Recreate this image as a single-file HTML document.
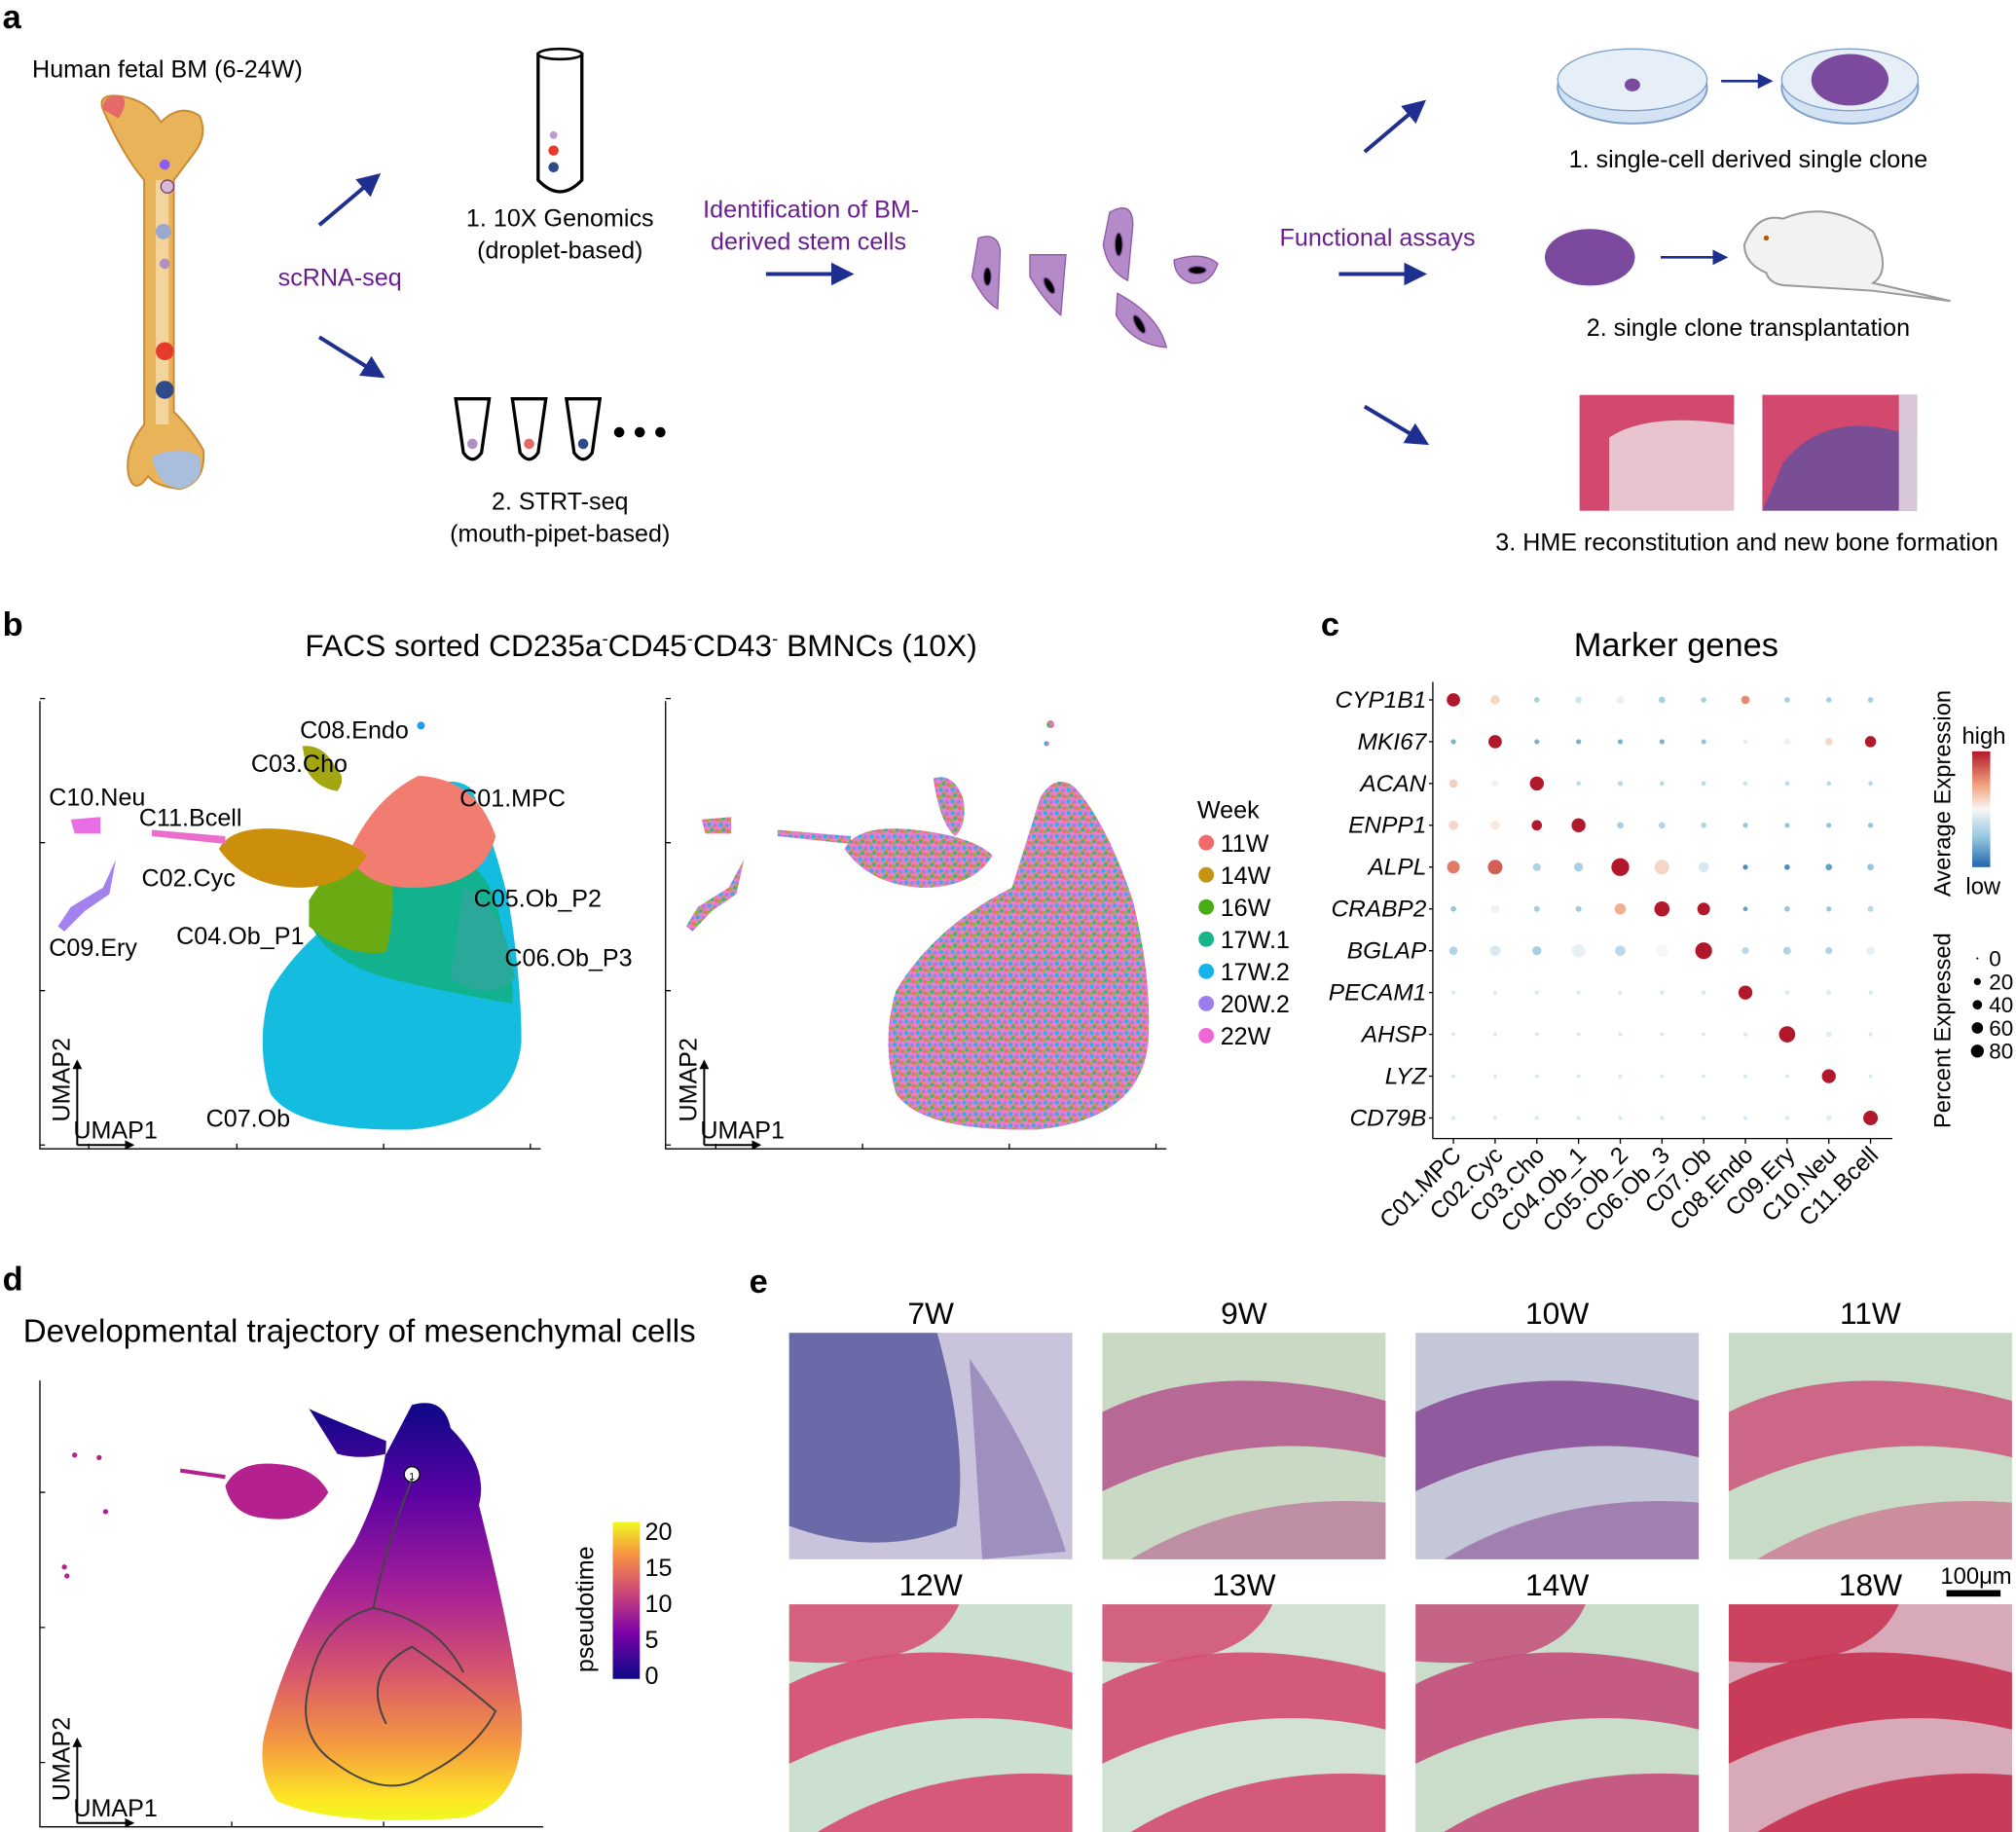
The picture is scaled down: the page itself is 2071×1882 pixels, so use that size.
<!DOCTYPE html>
<html><head><meta charset="utf-8"><style>
html,body{margin:0;padding:0;background:#fff;}
svg{display:block;font-family:"Liberation Sans",sans-serif;}
</style></head><body>
<svg id="fig" width="2071" height="1882" viewBox="0 0 1566 1424" preserveAspectRatio="none" xmlns="http://www.w3.org/2000/svg">
<defs>
<marker id="ah" viewBox="0 0 10 10" refX="8" refY="5" markerWidth="6" markerHeight="6" orient="auto"><path d="M0,0L10,5L0,10z" fill="#1f2f8f"/></marker>
<marker id="ak" viewBox="0 0 10 10" refX="8" refY="5" markerWidth="5" markerHeight="5" orient="auto"><path d="M0,0L10,5L0,10z" fill="#000"/></marker>
<pattern id="mix" width="9" height="9" patternUnits="userSpaceOnUse">
<rect width="9" height="9" fill="#e97ec9"/>
<circle cx="2" cy="2" r="1.6" fill="#22b5e8"/><circle cx="6.5" cy="2.5" r="1.5" fill="#9c7cf0"/>
<circle cx="4" cy="6" r="1.6" fill="#36b67c"/><circle cx="7.5" cy="7" r="1.4" fill="#f06a6a"/>
<circle cx="1" cy="7.5" r="1.3" fill="#7fbf1e"/><circle cx="5" cy="4" r="1.1" fill="#d39a11"/>
</pattern>
<linearGradient id="pt" x1="0" y1="0" x2="0" y2="1">
<stop offset="0" stop-color="#0d0887"/><stop offset="0.22" stop-color="#5b02a3"/><stop offset="0.45" stop-color="#a62098"/>
<stop offset="0.65" stop-color="#d8576b"/><stop offset="0.82" stop-color="#f59a3f"/><stop offset="0.95" stop-color="#fde725"/><stop offset="1" stop-color="#f0f921"/>
</linearGradient>
<linearGradient id="pbar" x1="0" y1="1" x2="0" y2="0">
<stop offset="0" stop-color="#0d0887"/><stop offset="0.3" stop-color="#7e03a8"/><stop offset="0.55" stop-color="#cc4778"/><stop offset="0.8" stop-color="#f89540"/><stop offset="1" stop-color="#f0f921"/>
</linearGradient>
<linearGradient id="ebar" x1="0" y1="0" x2="0" y2="1">
<stop offset="0" stop-color="#b2182b"/><stop offset="0.3" stop-color="#f4a582"/><stop offset="0.5" stop-color="#f7f7f7"/><stop offset="0.75" stop-color="#92c5de"/><stop offset="1" stop-color="#2166ac"/>
</linearGradient>
</defs>

<!-- ===== Panel a ===== -->
<g>
<text x="2" y="22" font-size="26" font-weight="bold">a</text>
<text x="25" y="60" font-size="19">Human fetal BM (6-24W)</text>
<g>
<path d="M80,85 Q75,72 95,75 Q115,78 125,95 Q140,80 155,90 Q162,105 150,120 L135,140 L135,320 Q150,335 158,350 Q160,375 140,380 Q120,378 115,370 Q105,385 100,370 Q96,350 112,330 L112,140 Q95,120 80,85z" fill="#e9b35a" stroke="#c98a34" stroke-width="1.5"/>
<path d="M80,85 Q80,72 95,75 Q100,80 92,92z" fill="#e46a6a"/>
<path d="M118,355 Q140,345 155,355 Q160,375 140,380 Q122,378 118,355z" fill="#a9bedc"/>
<rect x="121" y="140" width="10" height="190" fill="#f3d49c"/>
<circle cx="128" cy="128" r="4" fill="#8b5cf6"/><circle cx="130" cy="145" r="5" fill="#d7b9d8" stroke="#6d3d73"/>
<circle cx="127" cy="180" r="6" fill="#9aa7cf"/><circle cx="128" cy="205" r="4" fill="#b090c0"/>
<circle cx="128" cy="273" r="7" fill="#e53b2f"/><circle cx="128" cy="303" r="7" fill="#2e4a8a"/>
</g>
<text x="216" y="222" font-size="19" fill="#6a1d8f">scRNA-seq</text>
<line x1="248" y1="175" x2="293" y2="137" stroke="#1f2f8f" stroke-width="3" marker-end="url(#ah)"/>
<line x1="248" y1="262" x2="296" y2="292" stroke="#1f2f8f" stroke-width="3" marker-end="url(#ah)"/>
<g>
<path d="M418,42 L452,42 L452,140 Q435,158 418,140z" fill="#fff" stroke="#000" stroke-width="2.5"/>
<ellipse cx="435" cy="42" rx="17" ry="4" fill="#fff" stroke="#000" stroke-width="2"/>
<circle cx="430" cy="105" r="3" fill="#c09bd0"/><circle cx="430" cy="117" r="4" fill="#e53b2f"/><circle cx="430" cy="130" r="4" fill="#2e4a8a"/>
</g>
<text x="435" y="176" font-size="19" text-anchor="middle">1. 10X Genomics</text>
<text x="435" y="201" font-size="19" text-anchor="middle">(droplet-based)</text>
<g>
<path d="M354,310 L380,310 L374,352 Q367,362 360,352z" fill="#fff" stroke="#000" stroke-width="2.5"/><circle cx="367" cy="345" r="4" fill="#b090c0"/>
<path d="M398,310 L424,310 L418,352 Q411,362 404,352z" fill="#fff" stroke="#000" stroke-width="2.5"/><circle cx="411" cy="345" r="4" fill="#e46a6a"/>
<path d="M440,310 L466,310 L460,352 Q453,362 446,352z" fill="#fff" stroke="#000" stroke-width="2.5"/><circle cx="453" cy="345" r="4" fill="#2e4a8a"/>
<circle cx="481" cy="336" r="4"/><circle cx="497" cy="336" r="4"/><circle cx="513" cy="336" r="4"/>
</g>
<text x="435" y="396" font-size="19" text-anchor="middle">2. STRT-seq</text>
<text x="435" y="421" font-size="19" text-anchor="middle">(mouth-pipet-based)</text>
<text x="630" y="169" font-size="19" fill="#6a1d8f" text-anchor="middle">Identification of BM-</text>
<text x="628" y="194" font-size="19" fill="#6a1d8f" text-anchor="middle">derived stem cells</text>
<line x1="595" y1="213" x2="660" y2="213" stroke="#1f2f8f" stroke-width="3" marker-end="url(#ah)"/>
<g fill="#b58ac9" stroke="#8c5aa8">
<path d="M760,185 Q775,180 777,195 L775,240 Q765,235 755,215z"/><ellipse cx="767" cy="215" rx="3" ry="7" fill="#000"/>
<path d="M800,198 L828,198 L824,245 Q812,235 800,215z"/><ellipse cx="815" cy="222" rx="3" ry="7" fill="#000" transform="rotate(-30 815 222)"/>
<path d="M862,165 Q880,155 880,175 L876,218 Q860,210 857,190z"/><ellipse cx="869" cy="190" rx="3" ry="9" fill="#000"/>
<path d="M912,202 Q935,195 946,205 Q940,222 925,220 Q912,215 912,202z"/><ellipse cx="930" cy="210" rx="7" ry="3" fill="#000"/>
<path d="M868,228 Q900,245 906,270 Q880,268 867,245z"/><ellipse cx="885" cy="252" rx="3" ry="8" fill="#000" transform="rotate(-30 885 252)"/>
</g>
<text x="1070" y="191" font-size="19" fill="#6a1d8f" text-anchor="middle">Functional assays</text>
<line x1="1040" y1="213" x2="1105" y2="213" stroke="#1f2f8f" stroke-width="3" marker-end="url(#ah)"/>
<line x1="1060" y1="118" x2="1105" y2="80" stroke="#1f2f8f" stroke-width="3" marker-end="url(#ah)"/>
<line x1="1060" y1="316" x2="1107" y2="344" stroke="#1f2f8f" stroke-width="3" marker-end="url(#ah)"/>
<g>
<ellipse cx="1268" cy="68" rx="58" ry="28" fill="#d4e3f4" stroke="#7fa1c9" stroke-width="1.5"/>
<ellipse cx="1268" cy="62" rx="58" ry="24" fill="#e6eef8" stroke="#7fa1c9" stroke-width="1"/>
<ellipse cx="1268" cy="66" rx="6" ry="5" fill="#7b4a9e"/>
<ellipse cx="1437" cy="68" rx="53" ry="28" fill="#d4e3f4" stroke="#7fa1c9" stroke-width="1.5"/>
<ellipse cx="1437" cy="62" rx="53" ry="24" fill="#e6eef8" stroke="#7fa1c9" stroke-width="1"/>
<ellipse cx="1437" cy="62" rx="30" ry="20" fill="#7b4a9e"/>
</g>
<line x1="1337" y1="63" x2="1375" y2="63" stroke="#1f2f8f" stroke-width="2" marker-end="url(#ah)"/>
<text x="1358" y="130" font-size="19" text-anchor="middle">1. single-cell derived single clone</text>
<ellipse cx="1235" cy="200" rx="35" ry="22" fill="#7b4a9e"/>
<line x1="1290" y1="200" x2="1340" y2="200" stroke="#1f2f8f" stroke-width="2" marker-end="url(#ah)"/>
<path d="M1355,190 Q1365,165 1385,170 Q1420,155 1455,180 Q1470,210 1455,220 Q1490,228 1515,234 L1455,226 L1390,222 Q1375,222 1372,212 Q1355,205 1355,190z" fill="#f2f2f2" stroke="#999" stroke-width="1.5"/>
<circle cx="1372" cy="185" r="2" fill="#b35a00"/>
<text x="1358" y="261" font-size="19" text-anchor="middle">2. single clone transplantation</text>
<rect x="1227" y="307" width="120" height="90" fill="#e8c4cf"/>
<path d="M1227,307 L1347,307 L1347,330 Q1280,320 1250,340 L1250,397 L1227,397z" fill="#d2486f"/>
<rect x="1369" y="307" width="120" height="90" fill="#7a4e94"/>
<path d="M1369,307 L1489,307 L1489,340 Q1420,315 1385,360 L1369,397z" fill="#d2486f"/>
<rect x="1475" y="307" width="14" height="90" fill="#d8c7d8"/>
<text x="1357" y="428" font-size="19" text-anchor="middle">3. HME reconstitution and new bone formation</text>
</g>

<!-- ===== Panel b ===== -->
<g>
<text x="2" y="494" font-size="26" font-weight="bold">b</text>
<text x="498" y="510" font-size="24" text-anchor="middle">FACS sorted CD235a<tspan font-size="14" dy="-9">-</tspan><tspan dy="9">CD45</tspan><tspan font-size="14" dy="-9">-</tspan><tspan dy="9">CD43</tspan><tspan font-size="14" dy="-9">-</tspan><tspan dy="9"> BMNCs (10X)</tspan></text>
<g>
<path d="M210,770 Q240,720 300,690 L330,620 Q345,600 365,612 Q380,640 395,700 Q405,760 405,810 Q400,870 320,878 Q230,880 210,850 Q198,810 210,770z" fill="#14bce0"/>
<path d="M240,715 Q280,670 330,660 Q370,660 385,700 Q400,760 398,780 Q340,770 300,760 Q250,745 240,715z" fill="#13b28e"/>
<path d="M360,690 Q390,700 400,760 Q380,780 350,760z" fill="#2aa99a"/>
<path d="M240,700 Q260,665 300,660 Q310,700 300,740 Q270,745 240,720z" fill="#6aaa12"/>
<path d="M270,665 Q290,620 325,603 Q370,605 385,650 Q375,690 320,690 Q285,690 270,665z" fill="#f37c70"/>
<path d="M170,660 Q180,640 225,645 Q270,650 285,665 Q270,690 230,690 Q190,688 170,660z" fill="#cc8f0c"/>
<path d="M235,580 Q250,578 260,595 Q270,605 262,615 Q245,612 238,598z" fill="#a4a611"/>
<path d="M118,645 L175,650 L175,656 L118,650z" fill="#ea6fcc"/>
<path d="M55,637 L78,635 L78,648 L58,648z" fill="#e96ee6"/>
<path d="M90,668 L80,690 L55,705 L45,720 L50,724 L66,708 L85,695z" fill="#a381ef"/>
<circle cx="327" cy="564" r="3" fill="#1aa0e8"/>
</g>
<g font-size="19">
<text x="233" y="574">C08.Endo</text><text x="195" y="600">C03.Cho</text>
<text x="38" y="626">C10.Neu</text><text x="108" y="642">C11.Bcell</text>
<text x="357" y="627">C01.MPC</text><text x="110" y="689">C02.Cyc</text>
<text x="368" y="705">C05.Ob_P2</text><text x="137" y="734">C04.Ob_P1</text>
<text x="38" y="743">C09.Ery</text><text x="392" y="751">C06.Ob_P3</text>
<text x="160" y="876">C07.Ob</text>
</g>
<g stroke="#000" fill="none">
<path d="M31,545 L31,893 L420,893"/>
<path d="M31,543 L35,543 M31,655 L35,655 M31,770 L35,770 M31,890 L35,890 M69,893 L69,889 M184,893 L184,889 M298,893 L298,889 M412,893 L412,889" stroke-width="1"/>
<path d="M60,890 L60,825" marker-end="url(#ak)" stroke-width="1.5"/><path d="M60,890 L103,890" marker-end="url(#ak)" stroke-width="1.5"/>
</g>
<text x="54" y="872" font-size="19" transform="rotate(-90 54 872)">UMAP2</text>
<text x="57" y="885" font-size="19">UMAP1</text>
<g fill="url(#mix)">
<path d="M696,770 Q726,720 786,690 L808,620 Q820,600 835,612 Q860,640 880,700 Q895,760 892,810 Q886,870 806,878 Q716,880 696,850 Q684,810 696,770z"/>
<path d="M656,660 Q666,640 711,645 Q756,650 771,665 Q756,690 716,690 Q676,688 656,660z"/>
<path d="M725,605 Q740,600 748,620 Q752,640 742,650 Q730,640 725,605z"/>
<path d="M604,645 L661,650 L661,656 L604,650z"/>
<path d="M545,637 L568,635 L568,648 L548,648z"/>
<path d="M578,668 L566,690 L542,705 L533,720 L538,724 L553,708 L572,695z"/>
<circle cx="816" cy="563" r="3"/><circle cx="813" cy="578" r="2"/>
</g>
<g stroke="#000" fill="none">
<path d="M517,545 L517,893 L906,893"/>
<path d="M517,543 L521,543 M517,655 L521,655 M517,770 L521,770 M517,890 L521,890 M556,893 L556,889 M670,893 L670,889 M784,893 L784,889 M898,893 L898,889"/>
<path d="M547,890 L547,825" marker-end="url(#ak)" stroke-width="1.5"/><path d="M547,890 L590,890" marker-end="url(#ak)" stroke-width="1.5"/>
</g>
<text x="541" y="872" font-size="19" transform="rotate(-90 541 872)">UMAP2</text>
<text x="544" y="885" font-size="19">UMAP1</text>
<g font-size="19">
<text x="930" y="636">Week</text>
<circle cx="937" cy="655" r="6" fill="#f06a6a"/><text x="948" y="662">11W</text>
<circle cx="937" cy="680" r="6" fill="#c59410"/><text x="948" y="687">14W</text>
<circle cx="937" cy="705" r="6" fill="#4aac14"/><text x="948" y="712">16W</text>
<circle cx="937" cy="730" r="6" fill="#18b48a"/><text x="948" y="737">17W.1</text>
<circle cx="937" cy="755" r="6" fill="#18b3e8"/><text x="948" y="762">17W.2</text>
<circle cx="937" cy="780" r="6" fill="#9c7cf0"/><text x="948" y="787">20W.2</text>
<circle cx="937" cy="805" r="6" fill="#ef67d6"/><text x="948" y="812">22W</text>
</g>
</g>

<!-- ===== Panel c ===== -->
<g>
<text x="1026" y="494" font-size="26" font-weight="bold">c</text>
<text x="1302" y="510" font-size="26" text-anchor="middle">Marker genes</text>
<path d="M1113,530 L1113,885 L1470,885" stroke="#000" fill="none"/>
<g id="dots"></g>
<g id="ylab"></g>
<g id="xlab"></g>
<text x="1515" y="697" font-size="18" transform="rotate(-90 1515 697)">Average Expression</text>
<text x="1524" y="578" font-size="18">high</text>
<rect x="1532" y="584" width="14" height="90" fill="url(#ebar)"/>
<text x="1527" y="695" font-size="18">low</text>
<text x="1515" y="877" font-size="18" transform="rotate(-90 1515 877)">Percent Expressed</text>
<g id="sizeleg" font-size="17"></g>
</g>

<!-- ===== Panel d ===== -->
<g>
<text x="2" y="1003" font-size="26" font-weight="bold">d</text>
<text x="18" y="1043" font-size="25">Developmental trajectory of mesenchymal cells</text>
<path d="M31,1073 L31,1420 L422,1420" stroke="#000" fill="none"/>
<path d="M31,1160 L35,1160 M31,1265 L35,1265 M31,1370 L35,1370 M180,1420 L180,1416 M298,1420 L298,1416" stroke="#000"/>
<path d="M205,1350 Q225,1270 275,1200 Q300,1150 300,1120 Q250,1100 240,1095 L262,1130 Q280,1135 300,1130 L320,1092 Q345,1085 350,1110 Q380,1140 372,1170 Q395,1260 405,1330 Q410,1400 360,1413 Q260,1420 215,1400 Q200,1380 205,1350z" fill="url(#pt)"/>
<path d="M175,1155 Q185,1135 215,1138 Q245,1140 255,1160 Q240,1185 205,1180 Q180,1178 175,1155z" fill="#b5208f"/>
<path d="M140,1143 L175,1148" stroke="#b5208f" stroke-width="3"/>
<circle cx="320" cy="1146" r="6" fill="#fff" stroke="#000"/>
<text x="320" y="1150" font-size="8" text-anchor="middle">1</text>
<path d="M320,1150 Q300,1200 290,1250 Q250,1260 240,1310 Q230,1350 260,1370 Q300,1400 330,1380 Q370,1360 385,1330 Q350,1300 320,1280 Q280,1300 300,1340 M290,1250 Q340,1260 360,1300" stroke="#444" stroke-width="1.5" fill="none"/>
<circle cx="58" cy="1131" r="2" fill="#b5208f"/><circle cx="77" cy="1133" r="2" fill="#b5208f"/><circle cx="82" cy="1175" r="2" fill="#b5208f"/><circle cx="50" cy="1218" r="2" fill="#b5208f"/><circle cx="52" cy="1225" r="2" fill="#b5208f"/>
<path d="M60,1417 L60,1352" stroke="#000" stroke-width="1.5" marker-end="url(#ak)"/><path d="M60,1417 L103,1417" stroke="#000" stroke-width="1.5" marker-end="url(#ak)"/>
<text x="54" y="1400" font-size="19" transform="rotate(-90 54 1400)">UMAP2</text>
<text x="57" y="1412" font-size="19">UMAP1</text>
<text x="461" y="1300" font-size="19" transform="rotate(-90 461 1300)">pseudotime</text>
<rect x="476" y="1183" width="21" height="122" fill="url(#pbar)"/>
<g font-size="19">
<text x="501" y="1197">20</text><text x="501" y="1225">15</text><text x="501" y="1253">10</text><text x="501" y="1281">5</text><text x="501" y="1309">0</text>
</g>
</g>

<!-- ===== Panel e ===== -->
<g>
<text x="582" y="1005" font-size="26" font-weight="bold">e</text>
<g id="tiles"></g>
<text x="1535" y="1231" font-size="18" text-anchor="middle">100μm</text>
<rect x="1512" y="1236" width="42" height="5" fill="#000"/>
</g>
</svg>

<script>
// ===== dot plot data =====
const genes = ["CYP1B1","MKI67","ACAN","ENPP1","ALPL","CRABP2","BGLAP","PECAM1","AHSP","LYZ","CD79B"];
const clusters = ["C01.MPC","C02.Cyc","C03.Cho","C04.Ob_1","C05.Ob_2","C06.Ob_3","C07.Ob","C08.Endo","C09.Ery","C10.Neu","C11.Bcell"];
const avgExpr = [
 [1,.2,-.4,-.2,-.05,-.4,-.4,.6,-.4,-.4,-.4],
 [-.6,1,-.6,-.6,-.6,-.6,-.5,-.1,.05,.2,1],
 [.25,-.05,1,-.3,-.3,-.3,-.3,-.2,-.3,-.3,-.3],
 [.2,.1,1,1,-.4,-.35,-.35,-.5,-.5,-.5,-.5],
 [.65,.75,-.35,-.4,1,.2,-.15,-.8,-.8,-.7,-.5],
 [-.5,-.05,-.4,-.45,.45,1,1,-.7,-.5,-.5,-.3],
 [-.35,-.15,-.4,-.07,-.3,0,1,-.3,-.35,-.35,-.07],
 [-.15,-.15,-.15,-.15,-.15,-.15,-.15,1,-.15,-.1,-.15],
 [-.15,-.15,-.15,-.15,-.15,-.15,-.15,-.15,1,-.1,-.15],
 [-.15,-.15,-.15,-.15,-.15,-.15,-.15,-.15,-.15,1,-.15],
 [-.15,-.15,-.15,-.15,-.15,-.15,-.15,-.15,-.15,-.1,1]
];
const pctExpr = [
 [45,20,5,8,15,8,5,15,5,5,5],
 [4,45,4,4,4,4,4,3,8,10,30],
 [15,8,50,3,4,3,3,3,3,3,3],
 [20,18,25,50,8,8,5,4,4,4,4],
 [40,55,13,18,85,55,25,4,5,8,8],
 [5,15,6,6,30,60,40,3,5,4,6],
 [15,25,18,45,25,38,75,10,13,10,15],
 [2,2,2,2,2,2,2,50,2,4,2],
 [2,2,2,2,2,2,2,2,70,6,2],
 [2,2,2,2,2,2,2,2,2,50,2],
 [2,2,2,2,2,2,2,2,2,6,55]
];
const sizeTicks = [0,20,40,60,80];

const NS="http://www.w3.org/2000/svg";
const xScale = i => 1129 + i*32.4;
const yScale = j => 544 + j*32.5;
const rScale = p => 6.3*Math.sqrt(p/85) + 0.6;
const stops=[[-1,[33,102,172]],[-.5,[146,197,222]],[0,[247,247,247]],[.5,[244,165,130]],[1,[178,24,43]]];
function colorScale(v){
  v=Math.max(-1,Math.min(1,v));
  for(let k=0;k<stops.length-1;k++){const a=stops[k],b=stops[k+1];
    if(v<=b[0]){const t=(v-a[0])/(b[0]-a[0]);const c=a[1].map((x,i)=>Math.round(x+(b[1][i]-x)*t));return "rgb("+c.join(",")+")";}}
  return "rgb(178,24,43)";
}
function mk(tag,attrs,parent){const e=document.createElementNS(NS,tag);for(const k in attrs)e.setAttribute(k,attrs[k]);parent.appendChild(e);return e;}
const dots=document.getElementById('dots'),yl=document.getElementById('ylab'),xl=document.getElementById('xlab');
genes.forEach((g,j)=>{
  const t=mk('text',{x:1108,y:yScale(j)+6,'font-size':18.5,'font-style':'italic','text-anchor':'end'},yl);
  t.textContent=g;
  
  
  mk('line',{x1:1110,x2:1113,y1:yScale(j),y2:yScale(j),stroke:'#000'},yl);
  clusters.forEach((c,i)=>{
    const d=mk('circle',{cx:xScale(i),cy:yScale(j),r:rScale(pctExpr[j][i]),fill:colorScale(avgExpr[j][i])},dots);
    
    
  });
});
clusters.forEach((c,i)=>{
  const x=xScale(i),y=893;
  mk('line',{x1:x,x2:x,y1:885,y2:889,stroke:'#000'},xl);
  const t=mk('text',{x:x+7,y:y+6,'font-size':18.5,'text-anchor':'end',transform:"rotate(-45 "+(x+7)+" "+(y+6)+")"},xl);
  t.textContent=c;
  
  
});
const sl=document.getElementById('sizeleg');
sizeTicks.forEach((p,k)=>{
  const y=745+k*18;
  const c=mk('circle',{cx:1536,cy:y,r:p===0?0.8:rScale(p)*0.75,fill:'#000'},sl);
  
  
  const t=mk('text',{x:1545,y:y+6},sl);t.textContent=p;
  
  
});

// ===== histology tiles =====
const tileLabels=["7W","9W","10W","11W","12W","13W","14W","18W"];
const tileBg=["#c9c3dc","#c9d9c4","#c4c7d8","#c8dbc7","#cbe0cf","#d2e2d2","#c9ddca","#d8a9b8"];
const tileFg=["#6b6aa8","#b55b8f","#8a4f98","#cc5a7f","#d74a71","#d44b72","#c44d7a","#c8304f"];
const tg=document.getElementById('tiles');
tileLabels.forEach((lab,k)=>{
  const col=k%4,row=Math.floor(k/4);
  const x=613+col*243.3,y=row?1247:1036,w=220,h=row?177:176;
  const g=mk('g',{},tg);
  
  
  mk('rect',{x:x,y:y,width:w,height:h,fill:tileBg[k]},g);
  if(k===0){mk('path',{d:"M"+x+","+y+" L"+(x+115)+","+y+" Q"+(x+140)+","+(y+90)+" "+(x+130)+","+(y+150)+" Q"+(x+70)+","+(y+176)+" "+x+","+(y+150)+"z",fill:tileFg[k]},g);
    mk('path',{d:"M"+(x+140)+","+(y+20)+" Q"+(x+190)+","+(y+90)+" "+(x+215)+","+(y+170)+" L"+(x+150)+","+(y+176)+"z",fill:'#9e8fbf'},g);}
  else{
    mk('path',{d:"M"+x+","+(y+h*0.35)+" Q"+(x+w*0.4)+","+(y+h*0.1)+" "+(x+w)+","+(y+h*0.3)+" L"+(x+w)+","+(y+h*0.55)+" Q"+(x+w*0.5)+","+(y+h*0.4)+" "+x+","+(y+h*0.7)+"z",fill:tileFg[k],opacity:0.9},g);
    mk('path',{d:"M"+(x+w*0.1)+","+(y+h)+" Q"+(x+w*0.5)+","+(y+h*0.7)+" "+(x+w)+","+(y+h*0.75)+" L"+(x+w)+","+(y+h)+" z",fill:tileFg[k],opacity:row?0.9:0.6},g);
    if(row)mk('path',{d:"M"+x+","+y+" L"+(x+w*0.6)+","+y+" Q"+(x+w*0.5)+","+(y+h*0.3)+" "+x+","+(y+h*0.25)+"z",fill:tileFg[k],opacity:0.85},g);
  }
  const t=mk('text',{x:x+w/2,y:y-7,'font-size':24,'text-anchor':'middle'},tg);
  t.textContent=lab;
  
  
});
</script>
</body></html>
